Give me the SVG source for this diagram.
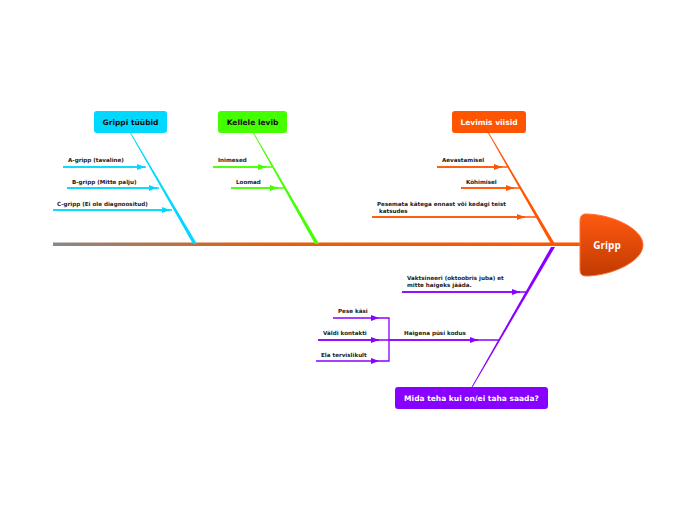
<svg xmlns="http://www.w3.org/2000/svg" width="697" height="520" viewBox="0 0 697 520">
<style>
.t{font-family:"DejaVu Sans",Verdana,sans-serif;font-weight:bold;font-size:5.6px;fill:#222}
.bt{font-family:"DejaVu Sans",Verdana,sans-serif;font-weight:bold;font-size:7.5px;text-anchor:middle}
.c{stroke:#00d8ff}.g{stroke:#44ff00}.o{stroke:#ff5500}.p{stroke:#8800ff}
</style>
<defs>
<linearGradient id="sp" x1="0" x2="1"><stop offset="0" stop-color="#888"/><stop offset="0.4" stop-color="#e06010"/><stop offset="1" stop-color="#ff5500"/></linearGradient>
<linearGradient id="hd" x1="0" y1="0" x2="0" y2="1"><stop offset="0" stop-color="#ff5a10"/><stop offset="1" stop-color="#c03a00"/></linearGradient>
<marker id="ac" markerWidth="8" markerHeight="6" refX="8" refY="3" orient="auto" markerUnits="userSpaceOnUse"><path d="M0,0L8,3L0,6z" fill="#00d8ff"/></marker>
<marker id="ag" markerWidth="8" markerHeight="6" refX="8" refY="3" orient="auto" markerUnits="userSpaceOnUse"><path d="M0,0L8,3L0,6z" fill="#44ff00"/></marker>
<marker id="ao" markerWidth="8" markerHeight="6" refX="8" refY="3" orient="auto" markerUnits="userSpaceOnUse"><path d="M0,0L8,3L0,6z" fill="#ff5500"/></marker>
<marker id="ap" markerWidth="8" markerHeight="6" refX="8" refY="3" orient="auto" markerUnits="userSpaceOnUse"><path d="M0,0L8,3L0,6z" fill="#8800ff"/></marker>
</defs>
<g id="connectors" fill="none" stroke-width="1.3">
<rect x="53" y="242.5" width="530" height="3.5" fill="url(#sp)" stroke="none"/>
<polygon points="130,133 131,133 197,244 193,244" fill="#00d8ff" stroke="none"/>
<polygon points="253,133 254,133 319,244 315,244" fill="#44ff00" stroke="none"/>
<polygon points="488,133 489,133 555,244 551,244" fill="#ff5500" stroke="none"/>
<polygon points="551,247 555,247 472,388 471,388" fill="#8800ff" stroke="none"/>
<path class="c" d="M63,167H146" /><path class="c" d="M63,167H145" marker-end="url(#ac)"/>
<path class="c" d="M67,188H159"/><path class="c" d="M67,188H157" marker-end="url(#ac)"/>
<path class="c" d="M53,210H172"/><path class="c" d="M53,210H170" marker-end="url(#ac)"/>
<path class="g" d="M213,167H272"/><path class="g" d="M213,167H266" marker-end="url(#ag)"/>
<path class="g" d="M231,188H284"/><path class="g" d="M231,188H278" marker-end="url(#ag)"/>
<path class="o" d="M437,167H508"/><path class="o" d="M437,167H502" marker-end="url(#ao)"/>
<path class="o" d="M461,188H520"/><path class="o" d="M461,188H514" marker-end="url(#ao)"/>
<path class="o" d="M372,217H536"/><path class="o" d="M372,217H525" marker-end="url(#ao)"/>
<path class="p" d="M402,292H527"/><path class="p" d="M402,292H520" marker-end="url(#ap)"/>
<path class="p" d="M389,340H500"/><path class="p" d="M389,340H478" marker-end="url(#ap)"/>
<path class="p" d="M379,318H389V361H379"/>
<path class="p" d="M333,318H379" marker-end="url(#ap)"/>
<path class="p" d="M318,340H389"/><path class="p" d="M318,340H379" marker-end="url(#ap)"/>
<path class="p" d="M316,361H379" marker-end="url(#ap)"/>
</g>
<g id="head"><path d="M586,214C610,214 643,228 643,245C643,262 610,276 586,276C580,276 580,272 580,268V222C580,216 582,214 586,214Z" fill="url(#hd)" stroke="#ff7030" stroke-width="1"/><text x="607" y="249" class="bt" style="font-size:10px;font-family:'Open Sans',sans-serif" fill="#fff">Gripp</text></g>
<g id="n1"><rect x="94" y="111" width="73" height="22" rx="3" fill="#00d8ff"/><text x="130.5" y="125" class="bt" fill="#111">Grippi tüübid</text></g>
<g id="n2"><rect x="218" y="111" width="69" height="22" rx="3" fill="#44ff00"/><text x="252.5" y="125" class="bt" fill="#111">Kellele levib</text></g>
<g id="n3"><rect x="452" y="111" width="74" height="22" rx="3" fill="#ff5500"/><text x="489" y="125" class="bt" fill="#fff">Levimis viisid</text></g>
<g id="n4"><rect x="395" y="387" width="153" height="22" rx="3" fill="#8800ff"/><text x="471.5" y="401" class="bt" fill="#fff">Mida teha kui on/ei taha saada?</text></g>
<g id="labels">
<text x="68" y="162" class="t">A-gripp (tavaline)</text>
<text x="72" y="184" class="t">B-gripp (Mitte palju)</text>
<text x="57" y="206" class="t">C-gripp (Ei ole diagnoositud)</text>
<text x="218" y="162" class="t">Inimesed</text>
<text x="236" y="184" class="t">Loomad</text>
<text x="442" y="162" class="t">Aevastamisel</text>
<text x="466" y="184" class="t">Köhimisel</text>
<text x="377" y="206" class="t">Pesemata kätega ennast või kedagi teist</text>
<text x="379" y="213" class="t">katsudes</text>
<text x="407" y="280" class="t">Vaktsineeri (oktoobris juba) et</text>
<text x="407" y="287" class="t">mitte haigeks jääda.</text>
<text x="404" y="335" class="t">Haigena püsi kodus</text>
<text x="338" y="313" class="t">Pese käsi</text>
<text x="323" y="335" class="t">Väldi kontakti</text>
<text x="321" y="357" class="t">Ela tervislikult</text>
</g>
</svg>
